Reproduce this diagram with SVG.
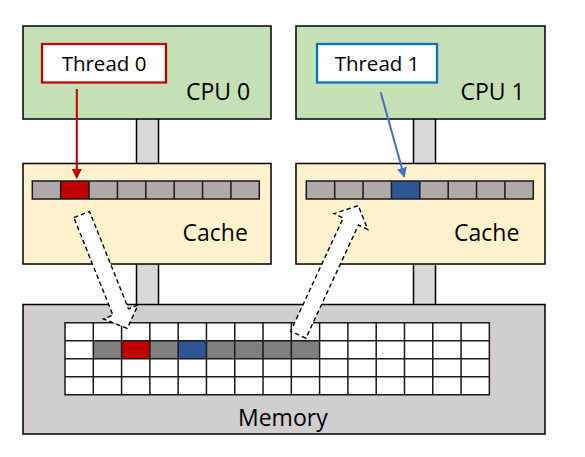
<svg xmlns="http://www.w3.org/2000/svg" width="585" height="457" viewBox="0 0 585 457">
<defs>
<style>
.box{stroke:#000;stroke-width:1.5}
.cpu{fill:#c5e0b4}
.cache{fill:#fff2cc}
.mem{fill:#d0cece}
.bar{fill:#d9d9d9;stroke:#000;stroke-width:1.5}
.lbl{font-family:"Open Sans","Noto Sans","DejaVu Sans",sans-serif;font-size:23px;fill:#000}
.tl{font-family:"Open Sans","Noto Sans","DejaVu Sans",sans-serif;font-size:20.5px;fill:#000;text-anchor:middle}
.cell{fill:#aeaaaa}
.grid{fill:none;stroke:#1a1a1a;stroke-width:1.5}
.blk{fill:#fff;stroke:#000;stroke-width:1.4;stroke-dasharray:4.5 3}
</style>
<marker id="ahR" viewBox="0 0 10 10" refX="9" refY="5" markerWidth="10" markerHeight="10" markerUnits="userSpaceOnUse" orient="auto"><path d="M0,0 L10,5 L0,10 z" fill="#c00000"/></marker>
<marker id="ahB" viewBox="0 0 10 10" refX="9" refY="5" markerWidth="10" markerHeight="10" markerUnits="userSpaceOnUse" orient="auto"><path d="M0,0 L10,5 L0,10 z" fill="#4472c4"/></marker>
</defs>
<rect width="585" height="457" fill="#fff"/>
<g id="buses">
<rect class="bar" x="136.5" y="118" width="22" height="187"/>
<rect class="bar" x="413.5" y="118" width="22" height="187"/>
</g>
<g id="cpu0">
<rect class="box cpu" x="23" y="26" width="248" height="93"/>
<text class="lbl" x="186" y="100">CPU 0</text>
</g>
<g id="thread0">
<rect x="42" y="44" width="124" height="38.5" fill="#fff" stroke="#c00000" stroke-width="2.25"/>
<text class="tl" x="104" y="71">Thread 0</text>
</g>
<g id="cpu1">
<rect class="box cpu" x="296" y="26" width="249" height="93"/>
<text class="lbl" x="460.5" y="100">CPU 1</text>
</g>
<g id="thread1">
<rect x="317" y="44" width="120" height="38.5" fill="#fff" stroke="#0070c0" stroke-width="2.25"/>
<text class="tl" x="377" y="71">Thread 1</text>
</g>
<g id="cache0">
<rect class="box cache" x="23" y="163.5" width="248" height="100.5"/>
<rect class="cell" x="32.3" y="181" width="227" height="18"/>
<rect x="60.68" y="181" width="28.38" height="18" fill="#c00000"/>
<path class="grid" d="M32.3,181H259.3V199H32.3Z M60.68,181V199 M89.05,181V199 M117.43,181V199 M145.8,181V199 M174.18,181V199 M202.55,181V199 M230.93,181V199"/>
<text class="lbl" x="182.5" y="241">Cache</text>
</g>
<g id="cache1">
<rect class="box cache" x="296" y="163.5" width="249" height="100.5"/>
<rect class="cell" x="306.3" y="181" width="227" height="18"/>
<rect x="391.43" y="181" width="28.38" height="18" fill="#2f5597"/>
<path class="grid" d="M306.3,181H533.3V199H306.3Z M334.68,181V199 M363.05,181V199 M391.43,181V199 M419.8,181V199 M448.18,181V199 M476.55,181V199 M504.93,181V199"/>
<text class="lbl" x="454" y="241">Cache</text>
</g>
<g id="memory">
<rect class="box mem" x="23" y="304.5" width="522" height="129.5"/>
<rect x="65" y="322.7" width="424.35" height="72" fill="#fff"/>
<rect x="93.29" y="340.7" width="226.32" height="18" fill="#7f7f7f"/>
<rect x="121.58" y="340.7" width="28.29" height="18" fill="#c00000"/>
<rect x="178.16" y="340.7" width="28.29" height="18" fill="#2f5597"/>
<path class="grid" d="M65,322.7H489.35V394.7H65Z M65,340.7H489.35 M65,358.7H489.35 M65,376.7H489.35 M93.29,322.7V394.7 M121.58,322.7V394.7 M149.87,322.7V394.7 M178.16,322.7V394.7 M206.45,322.7V394.7 M234.74,322.7V394.7 M263.03,322.7V394.7 M291.32,322.7V394.7 M319.61,322.7V394.7 M347.9,322.7V394.7 M376.19,322.7V394.7 M404.48,322.7V394.7 M432.77,322.7V394.7 M461.06,322.7V394.7"/>
<text class="lbl" x="238" y="425.5">Memory</text>
</g>
<g id="connectors">
<line x1="76.8" y1="89" x2="76.8" y2="178" stroke="#c00000" stroke-width="2" marker-end="url(#ahR)"/>
<line x1="380.7" y1="92.3" x2="404.3" y2="176.7" stroke="#4472c4" stroke-width="2" marker-end="url(#ahB)"/>
<polygon class="blk" transform="translate(81.7,214.5) rotate(-21.8)" points="-8.4,0 8.4,0 8.4,105.1 18.6,105.1 0,122.6 -18.6,105.1 -8.4,105.1"/>
<polygon class="blk" transform="translate(298.3,334.7) rotate(204.9)" points="-8.4,0 8.4,0 8.4,124.8 18.6,124.8 0,142.3 -18.6,124.8 -8.4,124.8"/>
</g>
</svg>
